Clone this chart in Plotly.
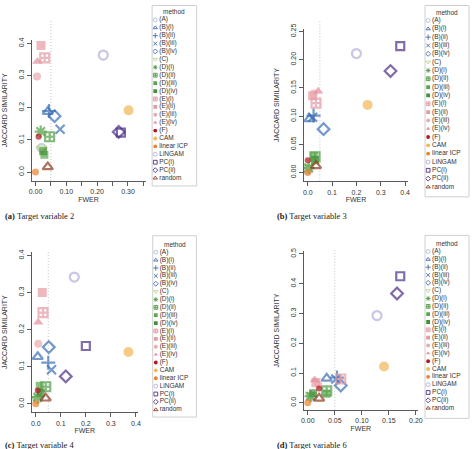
import plotly.graph_objects as go

W, H = 474, 449

methods = ["(A)", "(B)(i)", "(B)(ii)", "(B)(iii)", "(B)(iv)", "(C)", "(D)(i)", "(D)(ii)",
           "(D)(iii)", "(D)(iv)", "(E)(i)", "(E)(ii)", "(E)(iii)", "(E)(iv)", "(F)", "CAM",
           "linear ICP", "LiNGAM", "PC(i)", "PC(ii)", "random"]

# Target variable 2
fwer_tv2 = [0.020, 0.040, 0.044, 0.080, 0.062, 0.020, 0.017, 0.046, 0.029, 0.025, 0.030,
            0.018, 0.005, 0.006, 0.010, 0.302, 0.000, 0.220, 0.277, 0.270, 0.040]
jac_tv2 = [0.075, 0.188, 0.190, 0.133, 0.174, 0.072, 0.126, 0.110, 0.054, 0.065, 0.355,
           0.394, 0.297, 0.344, 0.110, 0.192, 0.000, 0.364, 0.123, 0.125, 0.016]
# Target variable 3
fwer_tv3 = [0.000, 0.007, 0.024, 0.020, 0.065, 0.004, 0.004, 0.030, 0.025, 0.030, 0.034,
            0.020, 0.025, 0.043, 0.000, 0.246, 0.000, 0.200, 0.380, 0.340, 0.034]
jac_tv3 = [0.005, 0.095, 0.101, 0.098, 0.077, 0.010, 0.008, 0.028, 0.030, 0.022, 0.123,
           0.136, 0.140, 0.144, 0.022, 0.120, 0.000, 0.211, 0.224, 0.180, 0.012]
# Target variable 4
fwer_tv4 = [0.006, 0.008, 0.050, 0.063, 0.052, 0.006, 0.008, 0.040, 0.016, 0.020, 0.029,
            0.026, 0.010, 0.010, 0.008, 0.370, 0.000, 0.154, 0.200, 0.120, 0.040]
jac_tv4 = [0.013, 0.127, 0.111, 0.092, 0.153, 0.013, 0.018, 0.046, 0.049, 0.030, 0.246,
           0.300, 0.162, 0.220, 0.036, 0.140, 0.000, 0.342, 0.156, 0.074, 0.015]
# Target variable 6
fwer_tv6 = [0.006, 0.035, 0.054, 0.052, 0.061, 0.006, 0.005, 0.035, 0.035, 0.010, 0.061,
            0.015, 0.020, 0.013, 0.021, 0.141, 0.000, 0.128, 0.171, 0.165, 0.021]
jac_tv6 = [0.020, 0.082, 0.085, 0.080, 0.058, 0.025, 0.022, 0.040, 0.030, 0.032, 0.080,
           0.068, 0.060, 0.077, 0.048, 0.122, 0.000, 0.293, 0.425, 0.367, 0.015]

captions = ["<b>(a)</b> Target variable 2", "<b>(b)</b> Target variable 3",
            "<b>(c)</b> Target variable 4", "<b>(d)</b> Target variable 6"]

x_tickvals = [[0, 0.05, 0.10, 0.15, 0.20, 0.25, 0.30, 0.35], [0, 0.1, 0.2, 0.3, 0.4],
              [0, 0.1, 0.2, 0.3, 0.4], [0, 0.05, 0.10, 0.15, 0.20]]
x_ticktext = [["0.00", "", "0.10", "", "0.20", "", "0.30", ""],
              ["0.0", "0.1", "0.2", "0.3", "0.4"],
              ["0.0", "0.1", "0.2", "0.3", "0.4"],
              ["0.00", "0.05", "0.10", "0.15", "0.20"]]
y_tickvals = [[0, 0.1, 0.2, 0.3, 0.4], [0, 0.05, 0.10, 0.15, 0.20, 0.25],
              [0, 0.1, 0.2, 0.3, 0.4], [0, 0.1, 0.2, 0.3, 0.4, 0.5]]
y_ticktext = [["0.0", "0.1", "0.2", "0.3", "0.4"],
              ["0.00", "0.05", "0.10", "0.15", "0.20", "0.25"],
              ["0.0", "0.1", "0.2", "0.3", "0.4"],
              ["0.0", "0.1", "0.2", "0.3", "0.4", "0.5"]]

alpha_level = 0.05

# ---- styles ----
BLUE = "#3b6db3"
GREEN = "#4f9c43"
PINK = "#e49aa4"
PURP = "#4b2c86"
colors = ["#aabdd2", BLUE, BLUE, BLUE, BLUE, "#bcd88e", GREEN, GREEN, "#5aa84c", "#43903b",
          PINK, "#e59aa3", "#eaa9b1", "#e3909d", "#b3151f", "#f0b755", "#e8832c", "#b8acd8",
          PURP, PURP, "#8d3b1d"]
symbols = ["circle-open", "triangle-up-open", "cross-thin-open", "x-thin-open", "diamond-open",
           "triangle-down-open", "asterisk-open", "square-cross-open", "square", "square",
           "square-cross-open", "square", "circle", "triangle-up", "circle", "circle",
           "circle", "circle-open", "square-open", "diamond-open", "triangle-up-open"]
sizes = [8, 9, 10, 9, 9, 9, 10, 9, 8, 8, 9, 9, 8, 9, 6, 10, 7, 9, 8, 9, 9]
linew = [2.2 if s.endswith("-open") else 0 for s in symbols]

panels = [(fwer_tv2, jac_tv2), (fwer_tv3, jac_tv3), (fwer_tv4, jac_tv4), (fwer_tv6, jac_tv6)]

# pixel geometry of each panel: (left, right, top, bottom, x-range, y-range, vline top px)
geo = [
    (29.0, 145.0, 35.0, 178.0, [-0.0128, 0.357], [-0.0277, 0.412], 15.0),
    (306.0, 412.0, 24.0, 178.3, [-0.016, 0.412], [-0.0155, 0.255], 15.0),
    (29.3, 137.0, 250.0, 411.7, [-0.0157, 0.407], [-0.0224, 0.409], 248.0),
    (306.0, 422.0, 249.0, 409.3, [-0.0073, 0.2036], [-0.0233, 0.509], 247.7),
]
# legend boxes: (left, right, top, bottom, first-entry y, last-entry y)
leg = [
    (151.7, 197.0, 0.5, 183.0, 15.0, 175.0),
    (429.3, 474.0, 0.5, 194.0, 15.7, 184.0),
    (152.3, 196.7, 233.3, 416.7, 250.0, 409.3),
    (429.3, 474.0, 233.0, 418.0, 249.3, 407.7),
]
cap_pos = [(0.0, 213.0), (277.0, 213.0), (0.0, 445.0), (277.0, 445.0)]

AX = "#5a5a5a"
FONT = "Liberation Sans"
fig = go.Figure()
layout = dict(width=W, height=H, margin=dict(l=0, r=0, t=0, b=0), showlegend=False,
              paper_bgcolor="white", plot_bgcolor="white")
shapes, annotations = [], []

for k, ((xs, ys), g) in enumerate(zip(panels, geo)):
    i = k + 1
    sx = "" if i == 1 else str(i)
    L, R, T, B, xr, yr, vtop = g
    shapes.append(dict(type="line", xref="x" + sx, yref="y" + sx + " domain", layer="below",
                       x0=alpha_level, x1=alpha_level, y0=0, y1=(B - vtop) / (B - T),
                       line=dict(color="#c4c4c4", width=1, dash="1px,2px")))
    fig.add_trace(go.Scatter(
        x=xs, y=ys, mode="markers", xaxis="x" + sx, yaxis="y" + sx, hoverinfo="skip",
        marker=dict(symbol=symbols, color=colors, size=sizes,
                    line=dict(color=colors, width=linew))))
    common = dict(showline=True, linecolor=AX, linewidth=1, ticks="outside", ticklen=4,
                  tickcolor=AX, tickwidth=1, showgrid=False, zeroline=False,
                  tickfont=dict(family=FONT, size=7, color="#333"))
    layout["xaxis" + sx] = dict(common, domain=[L / W, R / W], range=xr, anchor="y" + sx,
                                tickmode="array", tickvals=x_tickvals[k], ticktext=x_ticktext[k],
                                title=dict(text="FWER", font=dict(family=FONT, size=7, color="#333"),
                                           standoff=2))
    layout["yaxis" + sx] = dict(common, domain=[1 - B / H, 1 - T / H], range=yr, anchor="x" + sx,
                                tickmode="array", tickvals=y_tickvals[k], ticktext=y_ticktext[k],
                                tickangle=-90,
                                title=dict(text="JACCARD SIMILARITY",
                                           font=dict(family=FONT, size=7, color="#333"),
                                           standoff=9))

    # legend panel
    j = i + 4
    lx = str(j)
    lL, lR, lT, lB, f0, f1 = leg[k]
    sp = (f1 - f0) / (len(methods) - 1)
    idx = list(range(len(methods)))
    fig.add_trace(go.Scatter(
        x=[0.07] * len(methods), y=idx, mode="markers", xaxis="x" + lx, yaxis="y" + lx,
        hoverinfo="skip",
        marker=dict(symbol=symbols, color=colors, size=3.8,
                    line=dict(color=colors, width=[0.9 if w else 0 for w in linew]))))
    fig.add_trace(go.Scatter(
        x=[0.16] * len(methods), y=idx, mode="text", text=methods, textposition="middle right",
        xaxis="x" + lx, yaxis="y" + lx, hoverinfo="skip",
        textfont=dict(family=FONT, size=6.5, color="#333")))
    hidden = dict(visible=False, showgrid=False, zeroline=False, fixedrange=True)
    layout["xaxis" + lx] = dict(hidden, domain=[lL / W, min(lR / W, 1.0)], range=[0, 1],
                                anchor="y" + lx)
    layout["yaxis" + lx] = dict(hidden, domain=[1 - lB / H, 1 - lT / H],
                                range=[(lB - f0) / sp, (lT - f0) / sp], anchor="x" + lx)
    shapes.append(dict(type="rect", xref="x" + lx + " domain", yref="y" + lx + " domain",
                       x0=0, x1=1, y0=0, y1=1, line=dict(color="#cfcfcf", width=1)))
    annotations.append(dict(text="method", xref="x" + lx + " domain", x=0.5, yref="y" + lx,
                            y=-1, showarrow=False, xanchor="center", yanchor="middle",
                            font=dict(family=FONT, size=6.5, color="#333")))

    cx, cy = cap_pos[k]
    annotations.append(dict(text=captions[k], xref="paper", yref="paper", x=cx / W, y=1 - cy / H,
                            xanchor="left", yanchor="middle", showarrow=False,
                            font=dict(family="Liberation Serif", size=8.5, color="#222")))

layout["shapes"] = shapes
layout["annotations"] = annotations
fig.update_layout(**layout)
fig.write_html("out.html")
